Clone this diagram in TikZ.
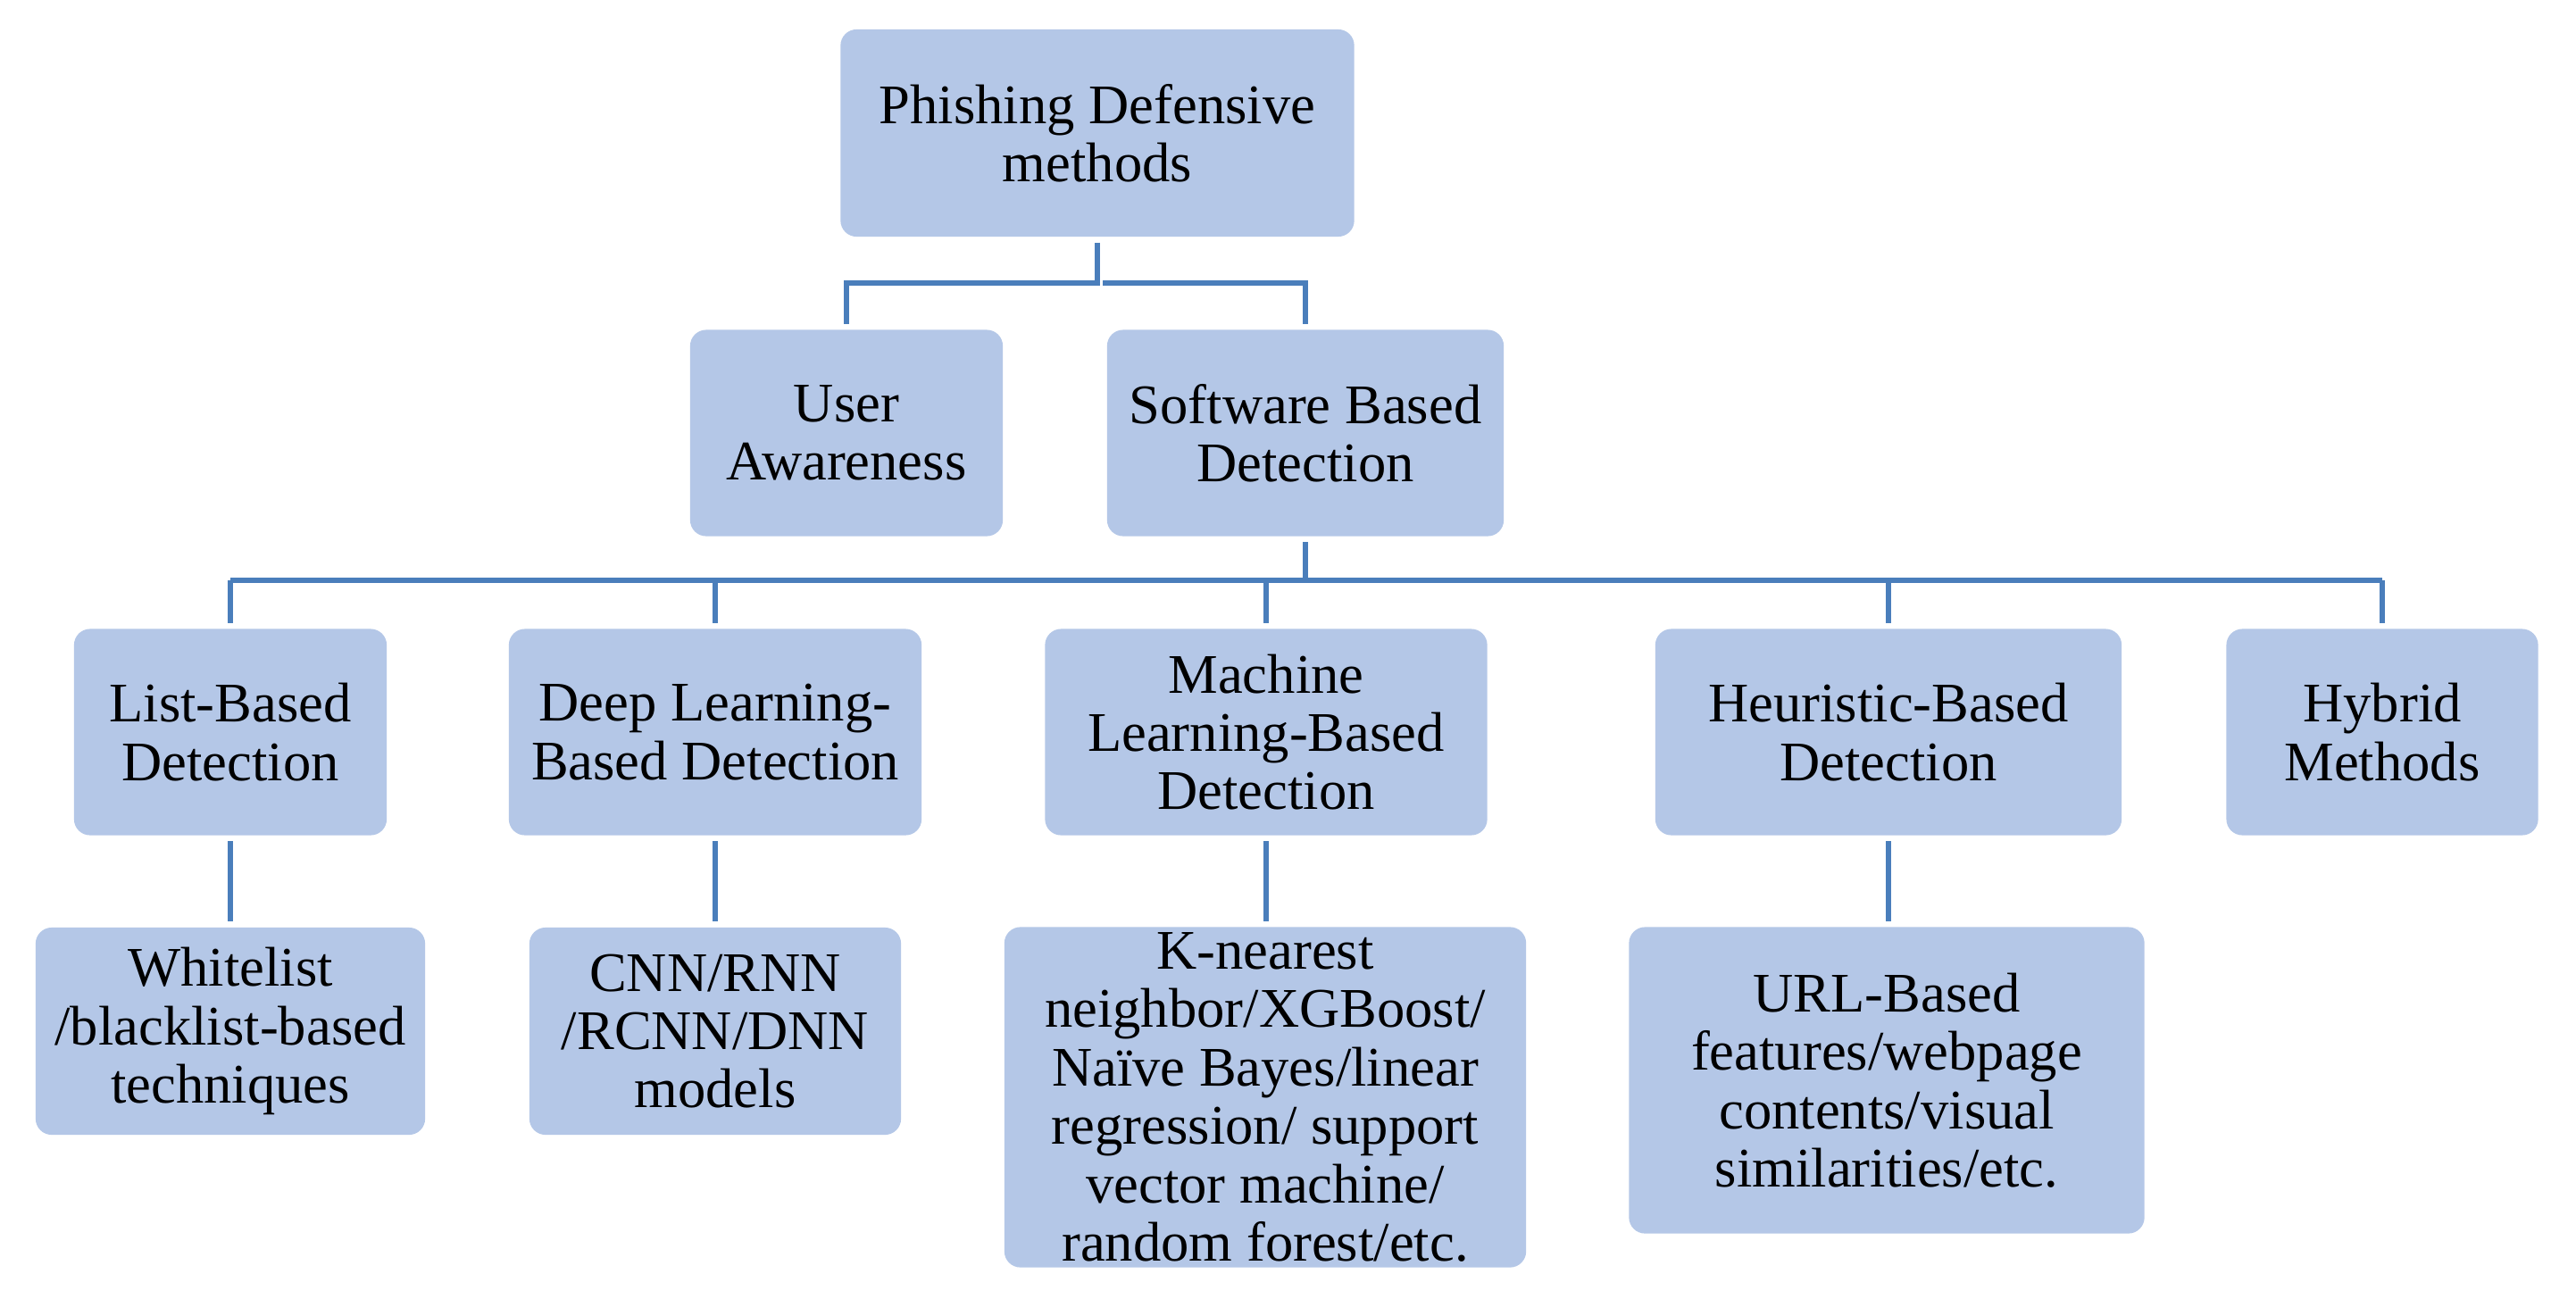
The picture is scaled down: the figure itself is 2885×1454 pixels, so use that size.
\documentclass[tikz,border=0pt]{standalone}
\usepackage{fontspec}
\setmainfont{Liberation Serif}
\begin{document}
\begin{tikzpicture}[x=0.01cm,y=-0.01cm,
  box/.style={fill=boxfill,draw=none,rounded corners=0.18cm,align=center,
    inner sep=0pt,font=\fontsize{17.8pt}{18.6pt}\selectfont,text=black},
  link/.style={draw=linkblue,line width=1.6pt,shorten <=0.06cm,shorten >=0.06cm},
  bus/.style={draw=linkblue,line width=1.6pt}]
\definecolor{boxfill}{HTML}{B4C7E7}
\definecolor{linkblue}{HTML}{4A7EBB}
\useasboundingbox (0,0) rectangle (2885,1454);
\fill[white] (0,0) rectangle (2885,1454);
% level 0
\node[box,minimum width=5.75cm,minimum height=2.32cm] (root) at (1229,149) {Phishing Defensive\\methods};
% level 1
\node[box,minimum width=3.50cm,minimum height=2.31cm] (ua) at (948,485) {User\\Awareness};
\node[box,minimum width=4.44cm,minimum height=2.31cm] (sbd) at (1462,485) {Software Based\\Detection};
% level 2
\node[box,minimum width=3.50cm,minimum height=2.31cm] (list) at (258,820) {List-Based\\Detection};
\node[box,minimum width=4.62cm,minimum height=2.31cm] (deep) at (801,820) {Deep Learning-\\Based Detection};
\node[box,minimum width=4.95cm,minimum height=2.31cm] (ml) at (1418,820) {Machine\\Learning-Based\\Detection};
\node[box,minimum width=5.22cm,minimum height=2.31cm] (heur) at (2115,820) {Heuristic-Based\\Detection};
\node[box,minimum width=3.49cm,minimum height=2.31cm] (hyb) at (2668,820) {Hybrid\\Methods};
% level 3
\node[box,minimum width=4.36cm,minimum height=2.32cm] (white) at (258,1155) {Whitelist\\/blacklist-based\\techniques};
\node[box,minimum width=4.16cm,minimum height=2.32cm] (cnn) at (801,1155) {CNN/RNN\\/RCNN/DNN\\models};
\node[box,minimum width=5.84cm,minimum height=3.81cm] (knn) at (1417,1229) {K-nearest\\neighbor/XGBoost/\\Naïve Bayes/linear\\regression/ support\\vector machine/\\random forest/etc.};
\node[box,minimum width=5.77cm,minimum height=3.43cm] (url) at (2113,1210) {URL-Based\\features/webpage\\contents/visual\\similarities/etc.};
% connectors level 0 -> 1
\coordinate (j0) at (1229,317);
\draw[link] (root.south) -- (j0) -| (ua.north);
\draw[link] (j0) -| (sbd.north);
% bus level 1 -> 2
\coordinate (j1) at (1462,650);
\draw[link,shorten >=0pt] (sbd.south) -- (j1);
\draw[bus] (list.north |- j1) -- (hyb.north |- j1);
\draw[link,shorten <=0pt] (list.north |- j1) -- (list.north);
\draw[link,shorten <=0pt] (deep.north |- j1) -- (deep.north);
\draw[link,shorten <=0pt] (ml.north |- j1) -- (ml.north);
\draw[link,shorten <=0pt] (heur.north |- j1) -- (heur.north);
\draw[link,shorten <=0pt] (hyb.north |- j1) -- (hyb.north);
% level 2 -> 3
\draw[link] (list.south) -- (white.north);
\draw[link] (deep.south) -- (cnn.north);
\draw[link] (ml.south) -- (ml.south |- knn.north);
\draw[link] (heur.south) -- (heur.south |- url.north);
\end{tikzpicture}
\end{document}
